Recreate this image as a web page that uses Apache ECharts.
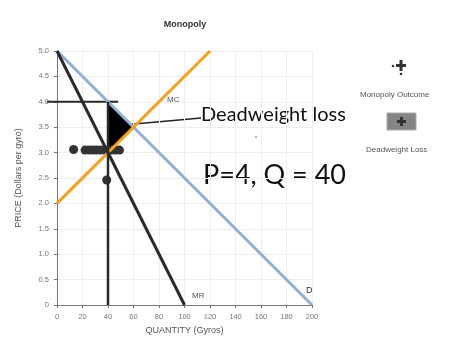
<!DOCTYPE html>
<html>
<head>
<meta charset="utf-8">
<script src="https://cdn.jsdelivr.net/npm/echarts@6/dist/echarts.min.js"></script>
<style>
  html, body { margin: 0; padding: 0; background: #fff; }
  #chart { width: 474px; height: 353px; }
</style>
</head>
<body>
<div id="chart"></div>
<script>
// curves (quantity, price)
var demand = [[0, 5], [200, 0]];
var mr = [[0, 5], [100, 0]];
var mc = [[0, 2], [120, 5]];
// deadweight loss triangle
var dwl = [[40, 4], [60, 3.5], [40, 3]];
// monopoly outcome guide lines
var priceLine = [[-8, 4], [48, 4]];
var qtyLine = [[40, 4], [40, 0]];
// hand drawn dots
var dots = [[13, 3.06], [22, 3.05], [25, 3.05], [28, 3.05], [31, 3.05], [34, 3.05],
    [37, 3.05], [40, 3.05], [43, 3.05], [46, 3.05], [49, 3.05], [39, 2.46]];
var xTicks = [0, 20, 40, 60, 80, 100, 120, 140, 160, 180, 200];
var yTicks = ['0', '0.5', '1.0', '1.5', '2.0', '2.5', '3.0', '3.5', '4.0', '4.5', '5.0'];

var myChart = echarts.init(document.getElementById('chart'));

var option = {
    animation: false,
    textStyle: {fontFamily: 'Liberation Sans, Arial, sans-serif'},
    title: {
        text: 'Monopoly',
        left: 180,
        top: 15,
        textAlign: 'center',
        textStyle: {fontSize: 9, fontWeight: 'bold', color: '#333'}
    },
    grid: {left: 57, right: 162, top: 51, bottom: 48},
    xAxis: {
        type: 'value',
        min: 0, max: 200, interval: 20,
        name: 'QUANTITY (Gyros)',
        nameLocation: 'middle',
        nameGap: 20,
        nameTextStyle: {fontSize: 9, color: '#555'},
        axisLine: {lineStyle: {color: '#777', width: 1}},
        axisTick: {show: true, length: 3, lineStyle: {color: '#777'}},
        axisLabel: {fontSize: 7.5, color: '#777', margin: 8, formatter: function (v) {
            return xTicks.indexOf(v) >= 0 ? String(v) : '';
        }},
        splitLine: {lineStyle: {color: '#eee'}}
    },
    yAxis: {
        type: 'value',
        min: 0, max: 5, interval: 0.5,
        name: 'PRICE (Dollars per gyro)',
        nameLocation: 'middle',
        nameGap: 34,
        nameTextStyle: {fontSize: 9, color: '#555'},
        axisLine: {show: true, lineStyle: {color: '#777', width: 1}},
        axisTick: {show: true, length: 3, lineStyle: {color: '#777'}},
        axisLabel: {fontSize: 7.5, color: '#777', margin: 8, formatter: function (v) {
            return yTicks[Math.round(v * 2)];
        }},
        splitLine: {lineStyle: {color: '#eee'}}
    },
    series: [{
        name: 'D', type: 'line', data: demand, symbol: 'none',
        lineStyle: {color: '#8fb0d4', width: 3}
    }, {
        name: 'MC', type: 'line', data: mc, symbol: 'none',
        lineStyle: {color: '#f5a11c', width: 3}
    }, {
        name: 'MR', type: 'line', data: mr, symbol: 'none',
        lineStyle: {color: '#2a2a2a', width: 3}
    }, {
        name: 'DWL', type: 'custom', data: [0],
        renderItem: function (params, api) {
            var pts = dwl.map(function (p) { return api.coord(p); });
            return {
                type: 'polygon',
                shape: {points: pts},
                style: {fill: '#000', stroke: '#000', lineWidth: 1}
            };
        }
    }, {
        // price line runs a little past the y axis, so draw it unclipped
        name: 'price', type: 'custom', data: [0], clip: false,
        renderItem: function (params, api) {
            var a = api.coord(priceLine[0]);
            var b = api.coord(priceLine[1]);
            return {
                type: 'line',
                shape: {x1: a[0], y1: a[1], x2: b[0], y2: b[1]},
                style: {stroke: '#2a2a2a', lineWidth: 2}
            };
        }
    }, {
        name: 'qty', type: 'line', data: qtyLine, symbol: 'none',
        lineStyle: {color: '#2a2a2a', width: 2.5}
    }, {
        name: 'dots', type: 'scatter', data: dots, symbolSize: 9,
        itemStyle: {color: '#333', opacity: 1}
    }],
    graphic: [
        {type: 'text', left: 167, top: 96, style: {text: 'MC', fontSize: 8, fill: '#555', font: '8px Liberation Sans'}},
        {type: 'text', left: 192, top: 292, style: {text: 'MR', fontSize: 8, fill: '#555', font: '8px Liberation Sans'}},
        {type: 'text', left: 306, top: 286, style: {text: 'D', fontSize: 9, fill: '#333', font: '9px Liberation Sans'}},
        {type: 'line', shape: {x1: 123, y1: 125, x2: 201, y2: 118}, style: {stroke: '#222', lineWidth: 1.5}},
        {type: 'text', left: 201, top: 105, style: {text: 'Deadweight loss', font: '20px Lato', fill: '#111'}},
        {type: 'text', left: 203, top: 162, style: {text: 'P=4, Q = 40', font: '27px Lato', fill: '#111'}},
        {type: 'circle', shape: {cx: 256, cy: 137, r: 0.8}, style: {fill: '#555'}},
        // legend
        {type: 'circle', shape: {cx: 393, cy: 66, r: 1.3}, style: {fill: '#333'}},
        {type: 'rect', shape: {x: 396, y: 64, width: 10, height: 3}, style: {fill: '#333'}},
        {type: 'rect', shape: {x: 399.5, y: 60, width: 3, height: 11}, style: {fill: '#333'}},
        {type: 'circle', shape: {cx: 401, cy: 74, r: 1.3}, style: {fill: '#333'}},
        {type: 'text', left: 360, top: 91, style: {text: 'Monopoly Outcome', font: '8px Liberation Sans', fill: '#555'}},
        {type: 'rect', shape: {x: 387, y: 113, width: 29, height: 17}, style: {fill: '#858585', stroke: '#aaa'}},
        {type: 'rect', shape: {x: 397, y: 120, width: 9, height: 3}, style: {fill: '#333'}},
        {type: 'rect', shape: {x: 400, y: 117, width: 3, height: 9}, style: {fill: '#333'}},
        {type: 'text', left: 366, top: 146, style: {text: 'Deadweight Loss', font: '8px Liberation Sans', fill: '#555'}}
    ]
};

myChart.setOption(option);
</script>
</body>
</html>
